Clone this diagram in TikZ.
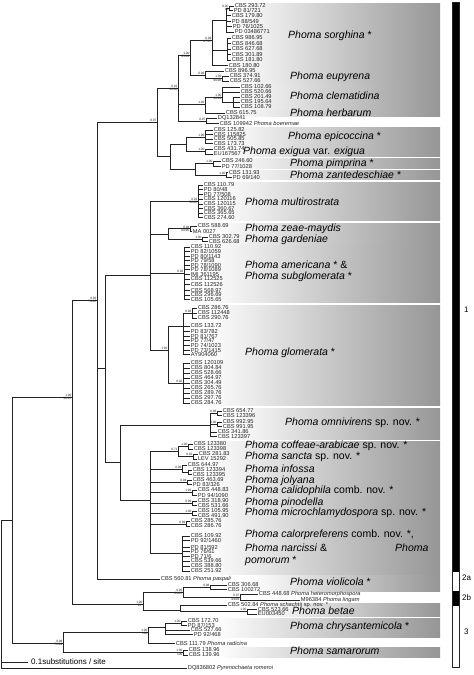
\documentclass[tikz,border=0pt]{standalone}
\usepackage{fontspec}
\setmainfont{Liberation Sans}
\usepackage{xcolor}
\definecolor{Ink}{RGB}{35,35,35}
\definecolor{BoxGrey}{RGB}{150,150,150}
\tikzset{
  pedge/.style={draw=Ink,line width=0.5pt},
  pleaf/.style={anchor=west,inner sep=0.7pt,text=Ink,font=\fontsize{5.7}{5.7}\selectfont},
  psup/.style={inner sep=0.3pt,text=Ink,font=\fontsize{3.2}{3.2}\selectfont},
  pbox/.style={left color=white,right color=BoxGrey},
  pname/.style={anchor=west,inner sep=0pt,font=\fontsize{10.5}{10.5}\selectfont},
  pgrp/.style={anchor=west,inner sep=0pt,font=\fontsize{8}{8}\selectfont},
}
% inner node, leaf and support values
\newcommand{\pnd}[4]{\coordinate (#1) at (#3,#4); \draw[pedge] (#2) |- (#1);}
\newcommand{\plf}[5]{\node[pleaf] (#1) at (#3,#4) {#5}; \draw[pedge] (#2) |- (#1.west);}
\newcommand{\psv}[3]{\node[psup,anchor=south east] at (#1) {#2}; \node[psup,anchor=north east] at (#1) {#3};}

\begin{document}
\begin{tikzpicture}[x=1pt,y=-1pt]
  \useasboundingbox (0,0) rectangle (474,675);
  % species boxes
  \foreach \ya/\yb/\xa in {3.5/68/232,69/83.5/232,84.5/109.5/236,110.5/116/230,
      127.5/146/222,147/156.5/222,158.5/168.5/226,170/179.5/232,
      182.5/220/215,223.5/234/212,235/244/212,245/302/205,305.5/405.5/205,
      408.5/439/230,441.5/451.5/205,452/461.5/205,462.5/477/205,478/487/205,
      488/497.5/205,498.5/508/205,509/518/205,519/574/205,
      575/591/250,603/616/262,618/637/215,647.5/657.5/215}
    \fill[pbox] (\xa,\ya) rectangle (440,\yb);
  \node[pname] (nsor) at (288,36) {\textit{Phoma sorghina} *};
  \node[pname] (neup) at (290,77) {\textit{Phoma eupyrena}};
  \node[pname] (ncle) at (290,96) {\textit{Phoma clematidina}};
  \node[pname] (nher) at (290,113) {\textit{Phoma herbarum}};
  \node[pname] (nepi) at (288,137) {\textit{Phoma epicoccina} *};
  \node[pname] (nexi) at (243,152) {\textit{Phoma exigua} var. \textit{exigua}};
  \node[pname] (npim) at (290,164) {\textit{Phoma pimprina} *};
  \node[pname] (nzan) at (290,175) {\textit{Phoma zantedeschiae} *};
  \node[pname] (nmul) at (245,202) {\textit{Phoma multirostrata}};
  \node[pname] (nzea) at (245,229) {\textit{Phoma zeae-maydis}};
  \node[pname] (ngar) at (245,240) {\textit{Phoma gardeniae}};
  \node[pname] (name) at (245,265) {\textit{Phoma americana} * \&};
  \node[pname] (nsub) at (245,277) {\textit{Phoma subglomerata} *};
  \node[pname] (nglo) at (245,353) {\textit{Phoma glomerata} *};
  \node[pname] (nomn) at (285,423) {\textit{Phoma omnivirens} sp. nov. *};
  \node[pname] (ncof) at (245,446) {\textit{Phoma coffeae-arabicae} sp. nov. *};
  \node[pname] (nsan) at (245,457) {\textit{Phoma sancta} sp. nov. *};
  \node[pname] (ninf) at (245,469) {\textit{Phoma infossa}};
  \node[pname] (njol) at (245,480.5) {\textit{Phoma jolyana}};
  \node[pname] (ncal) at (245,491) {\textit{Phoma calidophila} comb. nov. *};
  \node[pname] (npin) at (245,502.5) {\textit{Phoma pinodella}};
  \node[pname] (nmic) at (245,513) {\textit{Phoma microchlamydospora} sp. nov. *};
  \node[pname] (nclo) at (245,535) {\textit{Phoma calorpreferens} comb. nov. *,};
  \node[pname] (nnar) at (245,548) {\textit{Phoma narcissi} \&};
  \node[pname] (nnab) at (395,548) {\textit{Phoma}};
  \node[pname] (npom) at (245,561) {\textit{pomorum} *};
  \node[pname] (nvio) at (290,582) {\textit{Phoma violicola} *};
  \node[pname] (nbet) at (292,611) {\textit{Phoma betae}};
  \node[pname] (nchr) at (290,627) {\textit{Phoma chrysantemicola} *};
  \node[pname] (nsam) at (290,651) {\textit{Phoma samarorum}};
  % group bar
  \fill[black] (452,2) rectangle (459,572);
  \fill[black] (452,591) rectangle (459,606);
  \draw[Ink,line width=0.4pt] (452,2) rectangle (459,667);
  \node[pgrp] (gr1) at (464,310) {1};
  \node[pgrp] (gr2a) at (462,578) {2a};
  \node[pgrp] (gr2b) at (462,598) {2b};
  \node[pgrp] (gr3) at (464,632) {3};
  % backbone
  \coordinate (root) at (1,520);
  \pnd{n1}{root}{12}{520}
  \pnd{n2}{n1}{72}{397}
  \pnd{g1}{n2}{97}{300}
  \pnd{u0}{g1}{157}{122}
  \pnd{a0}{u0}{178}{88}
  \pnd{se}{a0}{190}{55}
  % sorghina
  \pnd{s0}{se}{212}{40}
  \pnd{s1}{s0}{226}{20}
  \pnd{s2}{s1}{229}{8.2}
  \plf{so1}{s2}{234}{6}{CBS 293.72}
  \plf{so2}{s2}{233}{10.5}{PD 81/721}
  \plf{so3}{s1}{231}{15.5}{CBS 179.80}
  \plf{so4}{s1}{231}{21}{PD 88/549}
  \plf{so5}{s1}{232}{26.5}{PD 76/1025}
  \plf{so6}{s1}{234}{32}{PD 03486771}
  \pnd{s3}{s0}{227}{50}
  \plf{so7}{s3}{231}{38}{CBS 986.95}
  \plf{so8}{s3}{231}{43.5}{CBS 846.68}
  \plf{so9}{s3}{231}{49}{CBS 627.68}
  \plf{so10}{s3}{231}{54.5}{CBS 301.89}
  \plf{so11}{s3}{231}{60}{CBS 181.80}
  \plf{so12}{s0}{228}{65.5}{CBS 180.80}
  % eupyrena
  \pnd{se2}{se}{205}{75}
  \plf{eu1}{se2}{224}{71}{CBS 896.95}
  \pnd{e0}{se2}{222}{78.5}
  \plf{eu2}{e0}{229}{76}{CBS 374.91}
  \plf{eu3}{e0}{229}{81}{CBS 527.66}
  % clematidina, herbarum, boeremae
  \pnd{ch}{a0}{205}{104}
  \pnd{c0}{ch}{222}{97}
  \plf{cl1}{c0}{240}{87}{CBS 102.66}
  \plf{cl2}{c0}{240}{92}{CBS 520.66}
  \pnd{c1}{c0}{233}{102}
  \plf{cl3}{c1}{240}{97}{CBS 201.49}
  \plf{cl4}{c1}{240}{102}{CBS 195.64}
  \plf{cl5}{c1}{240}{107}{CBS 108.79}
  \plf{he1}{ch}{225}{113}{CBS 615.75}
  \pnd{d0}{a0}{206}{121}
  \plf{bo1}{d0}{217}{118.5}{DQ132841}
  \plf{bo2}{d0}{219}{123.5}{CBS 109942 \textit{Phoma boeremae}}
  % epicoccina to zantedeschiae
  \pnd{b0}{u0}{170}{156}
  \pnd{b1}{b0}{186}{144}
  \pnd{ep}{b1}{205}{137}
  \plf{ep1}{ep}{213}{130}{CBS 125.82}
  \plf{ep2}{ep}{213}{134.5}{CBS 115825}
  \plf{ep3}{ep}{213}{139}{CBS 505.85}
  \plf{ep4}{ep}{213}{143.5}{CBS 173.73}
  \pnd{ex}{b1}{205}{151.5}
  \plf{ex1}{ex}{213}{149}{CBS 431.74}
  \plf{ex2}{ex}{213}{154}{EU167567}
  \pnd{b2}{b0}{195}{169}
  \pnd{pi}{b2}{213}{163.5}
  \plf{pi1}{pi}{221}{161}{CBS 246.60}
  \plf{pi2}{pi}{221}{166}{PD 77/1028}
  \pnd{zz}{b2}{226}{175}
  \plf{za1}{zz}{228}{172.5}{CBS 131.93}
  \plf{za2}{zz}{232}{177}{PD 69/140}
  % multirostrata to glomerata
  \pnd{mm}{g1}{105}{368}
  \pnd{up}{mm}{150}{275}
  \pnd{mr}{up}{198}{201}
  \foreach \nm/\yy/\tx in {1/185/{CBS 110.79},2/189.5/{PD 80/48},3/194/{PD 77/508},
      4/199/{CBS 120116},5/204/{CBS 120115},6/208.5/{CBS 360.67},7/213/{CBS 365.65},
      8/217.5/{CBS 274.60}}
    {\plf{mu\nm}{mr}{203}{\yy}{\tx}}
  \pnd{zg}{up}{168}{234}
  \pnd{zm}{zg}{190}{228.7}
  \plf{zm1}{zm}{197}{226}{CBS 588.69}
  \plf{zm2}{zm}{192}{231.5}{MA 0027}
  \pnd{ga}{zg}{202}{239}
  \plf{ga1}{ga}{208}{237}{CBS 302.79}
  \plf{ga2}{ga}{208}{241.5}{CBS 626.68}
  \pnd{am}{up}{184}{273}
  \foreach \nm/\yy/\tx in {1/247/{CBS 110.92},2/251.5/{PD 82/1059},3/256/{PD 80/1143},
      4/260.5/{PD 79/58},5/265/{PD 78/1090},6/269.5/{PD 78/1089},7/274.5/{IMI 361195},
      8/279/{CBS 112525},9/284.5/{CBS 112526},10/290.5/{CBS 568.97},11/295/{CBS 296.69},
      12/299.5/{CBS 105.65}}
    {\plf{am\nm}{am}{190}{\yy}{\tx}}
  \pnd{gl0}{up}{168}{350}
  \pnd{gla}{gl0}{183}{326}
  \pnd{gl1}{gla}{192}{313}
  \plf{gb1}{gl1}{197}{308}{CBS 286.76}
  \plf{gb2}{gl1}{197}{313}{CBS 112448}
  \plf{gb3}{gl1}{197}{318}{CBS 290.76}
  \foreach \nm/\yy/\tx in {1/326/{CBS 133.72},2/331/{PD 83/782},3/336/{PD 81/767},
      4/340.5/{PD 77/47},5/345/{PD 74/1023},6/350/{PD 73/1415},7/354.5/{AY904060}}
    {\plf{gc\nm}{gla}{190}{\yy}{\tx}}
  \pnd{gl2}{gl0}{183}{383}
  \foreach \nm/\yy/\tx in {1/363/{CBS 120109},2/368/{CBS 804.84},3/373/{CBS 528.66},
      4/378/{CBS 464.97},5/383/{CBS 304.49},6/388/{CBS 265.76},7/393/{CBS 289.76},
      8/398/{CBS 297.76},9/403/{CBS 284.76}}
    {\plf{gd\nm}{gl2}{190}{\yy}{\tx}}
  % omnivirens to narcissi
  \pnd{lo}{mm}{120}{462}
  \pnd{om}{lo}{210}{425}
  \pnd{o1}{om}{217}{413}
  \plf{om1}{o1}{222}{411}{CBS 654.77}
  \plf{om2}{o1}{222}{415.5}{CBS 123396}
  \pnd{o2}{om}{217}{424}
  \plf{om3}{o2}{222}{422}{CBS 992.95}
  \plf{om4}{o2}{222}{426.5}{CBS 991.95}
  \plf{om5}{om}{217}{432}{CBS 341.86}
  \plf{om6}{om}{217}{436.5}{CBS 123397}
  \pnd{lo2}{lo}{150}{500}
  \pnd{cs}{lo2}{178}{451}
  \pnd{co}{cs}{188}{446.5}
  \plf{co1}{co}{193}{444}{CBS 123380}
  \plf{co2}{co}{193}{449}{CBS 123398}
  \pnd{sa}{cs}{193}{456.5}
  \plf{sa1}{sa}{198}{454}{CBS 281.83}
  \plf{sa2}{sa}{197}{459}{LEV 15292}
  \pnd{inf}{lo2}{182}{469}
  \plf{if1}{inf}{187}{465}{CBS 644.97}
  \pnd{inf1}{inf}{188}{472.3}
  \plf{if2}{inf1}{192}{470}{CBS 123394}
  \plf{if3}{inf1}{192}{474.5}{CBS 123395}
  \pnd{jo}{lo2}{187}{482}
  \plf{jo1}{jo}{192}{480}{CBS 463.69}
  \plf{jo2}{jo}{192}{484.5}{PD 83/326}
  \pnd{ca}{lo2}{192}{492.5}
  \plf{ca1}{ca}{197}{490}{CBS 448.83}
  \plf{ca2}{ca}{197}{495}{PD 94/1090}
  \pnd{pn}{lo2}{192}{503}
  \plf{pn1}{pn}{197}{501}{CBS 318.90}
  \plf{pn2}{pn}{197}{505.5}{CBS 531.66}
  \pnd{mi}{lo2}{192}{513}
  \plf{mi1}{mi}{197}{511}{CBS 105.95}
  \plf{mi2}{mi}{197}{515.5}{CBS 491.90}
  \pnd{cl}{lo2}{186}{524}
  \plf{cp1}{cl}{190}{521}{CBS 285.76}
  \plf{cp2}{cl}{190}{526}{CBS 286.76}
  \pnd{na}{lo2}{182}{553}
  \foreach \nm/\yy/\tx in {1/536/{CBS 109.92},2/540.5/{PD 92/1460},3/547/{PD 81/592},
      4/551.5/{PD 76/61},5/556/{PD 71/6},6/561/{CBS 539.66},7/566/{CBS 388.80},
      8/571/{CBS 251.92}}
    {\plf{na\nm}{na}{190}{\yy}{\tx}}
  \plf{pas}{g1}{160}{579}{CBS 560.81 \textit{Phoma paspali}}
  % group 2
  \pnd{g2}{n2}{143}{604}
  \pnd{a2}{g2}{183}{592}
  \pnd{v}{a2}{210}{587.2}
  \plf{vi1}{v}{227}{585}{CBS 306.68}
  \plf{vi2}{v}{227}{589.5}{CBS 100272}
  \pnd{hl}{a2}{240}{597.2}
  \plf{hl1}{hl}{258}{594.5}{CBS 448.68 \textit{Phoma heteromorphospora}}
  \plf{hl2}{hl}{300}{599.8}{M96384 \textit{Phoma lingam}}
  \pnd{bb}{g2}{180}{610}
  \plf{sch}{bb}{227}{604.8}{CBS 502.84 \textit{Phoma schachtii} sp. nov. *}
  \pnd{be}{bb}{247}{611.5}
  \plf{be1}{be}{257}{609.5}{CBS 523.66}
  \plf{be2}{be}{257}{614}{EU003450}
  % group 3 and outgroup
  \pnd{g3}{n1}{63}{643}
  \pnd{g3a}{g3}{148}{632}
  \pnd{chr}{g3a}{165}{627}
  \pnd{chr1}{chr}{181}{623.2}
  \plf{cr1}{chr1}{187}{621}{CBS 172.70}
  \plf{cr2}{chr1}{187}{625.5}{PD 87/153}
  \plf{cr3}{chr}{190}{630}{CBS 527.66}
  \plf{cr4}{chr}{193}{634.5}{PD 92/468}
  \plf{rad}{g3a}{175}{643}{CBS 111.79 \textit{Phoma radicina}}
  \pnd{sm}{g3}{183}{652.5}
  \plf{sm1}{sm}{188}{650}{CBS 138.96}
  \plf{sm2}{sm}{188}{655}{CBS 139.96}
  \plf{out}{root}{187}{668}{DQ836802 \textit{Pyrenochaeta romeroi}}
  % support values
  \psv{s2}{0.95}{98}
  \psv{s0}{0.99}{67/97}
  \psv{se}{1.00}{93/99}
  \psv{se2}{0.96}{}
  \psv{e0}{1.00}{96/96}
  \psv{a0}{0.92}{92/96}
  \psv{c0}{1.00}{98/99}
  \psv{ch}{1.00}{}
  \psv{d0}{0.97}{}
  \psv{u0}{0.97}{}
  \psv{ep}{1.00}{}
  \psv{ex}{1.00}{}
  \psv{pi}{1.00}{}
  \psv{zz}{1.00}{}
  \psv{mr}{0.91}{52/65}
  \psv{zm}{0.94}{60/95}
  \psv{ga}{1.00}{}
  \psv{am}{0.92}{}
  \psv{gl1}{0.98}{}
  \psv{gl0}{1.00}{}
  \psv{gl2}{0.92}{}
  \psv{o1}{0.98}{}
  \psv{o2}{1.00}{}
  \psv{co}{1.00}{}
  \psv{cs}{0.71}{}
  \psv{sa}{0.92}{}
  \psv{inf}{0.99}{}
  \psv{jo}{0.94}{}
  \psv{ca}{1.00}{}
  \psv{pn}{0.99}{}
  \psv{mi}{1.00}{}
  \psv{cl}{0.99}{}
  \psv{g1}{0.92}{78/85}
  \psv{n2}{1.00}{98/97}
  \psv{a2}{0.95}{66/67}
  \psv{v}{0.98}{}
  \psv{hl}{0.97}{99/93}
  \psv{g2}{1.00}{53*}
  \psv{be}{1.00}{}
  \psv{chr1}{1.00}{}
  \psv{g3a}{1.00}{100}
  \psv{g3}{0.98}{72/99}
  \psv{sm}{1.00}{100}
  % scale bar
  \coordinate (sb0) at (2,662);
  \node[pgrp,inner sep=0pt] (sbt) at (31,662) {0.1substitutions / site};
  \draw[pedge] (sb0) -- ([xshift=-3pt]sbt.west);
\end{tikzpicture}
\end{document}
